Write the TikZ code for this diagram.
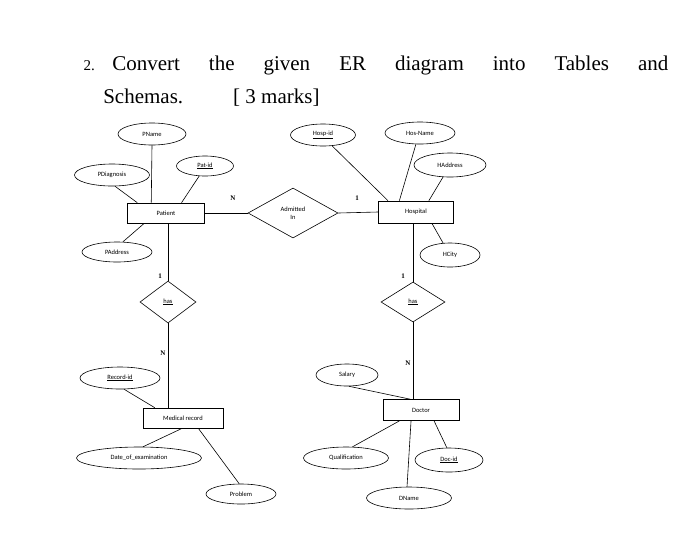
\documentclass[tikz,border=0pt]{standalone}
\usepackage{fontspec}
\setmainfont{Liberation Serif}
\newfontfamily\smallsans{Carlito}
\usetikzlibrary{shapes.geometric,calc}
\begin{document}
\begin{tikzpicture}[x=1pt,y=-1pt,line width=0.6pt,
 att/.style={ellipse,draw,inner sep=0pt,font=\smallsans\fontsize{6.5}{7.5}\selectfont},
 ent/.style={rectangle,draw,inner sep=0pt,font=\smallsans\fontsize{6.5}{7.5}\selectfont},
 rel/.style={diamond,draw,inner sep=0pt,font=\smallsans\fontsize{6.5}{7.5}\selectfont,align=center},
 card/.style={font=\bfseries\fontsize{7}{8}\selectfont}]
\useasboundingbox (0,0) rectangle (700,536);
\node[anchor=base west,font=\fontsize{15}{17}\selectfont] (num) at (80,70) {2.};
\node[anchor=base west,font=\fontsize{21}{24}\selectfont,inner sep=0pt] (l1) at (112,70) {\makebox[556pt][s]{Convert the given ER diagram into Tables and}};
\node[anchor=base west,font=\fontsize{21}{24}\selectfont,inner sep=0pt] (l2) at (103,103) {Schemas.\hspace{50pt}[ 3 marks]};
% entities
\node[ent,minimum width=77pt,minimum height=20pt] (patient) at (166,213) {Patient};
\node[ent,minimum width=75pt,minimum height=22pt] (hospital) at (416,212) {Hospital};
\node[ent,minimum width=80pt,minimum height=20pt] (medrec) at (183,418) {Medical record};
\node[ent,minimum width=76pt,minimum height=21pt] (doctor) at (421,410) {Doctor};
% relationships
\node[rel,minimum width=90pt,minimum height=50pt] (admit) at (293,213) {Admitted\\In};
\node[rel,minimum width=56pt,minimum height=42pt] (has1) at (168,302) {\underline{has}};
\node[rel,minimum width=64pt,minimum height=40pt] (has2) at (413,302) {\underline{has}};
% attributes
\node[att,minimum width=68pt,minimum height=22pt] (pname) at (152,134) {PName};
\node[att,minimum width=57pt,minimum height=20pt] (patid) at (205,166) {\underline{Pat-id}};
\node[att,minimum width=75pt,minimum height=22pt] (pdiag) at (112,175) {PDiagnosis};
\node[att,minimum width=70pt,minimum height=20pt] (paddr) at (117,252) {PAddress};
\node[att,minimum width=65pt,minimum height=22pt] (hospid) at (323,135) {\underline{Hosp-id}};
\node[att,minimum width=70pt,minimum height=22pt] (hosname) at (420,133) {Hos-Name};
\node[att,minimum width=72pt,minimum height=24pt] (haddr) at (450,165) {HAddress};
\node[att,minimum width=60pt,minimum height=24pt] (hcity) at (450,255) {HCity};
\node[att,minimum width=80pt,minimum height=22pt] (recid) at (120,378) {\underline{Record-id}};
\node[att,minimum width=125pt,minimum height=22pt] (date) at (139,458) {Date\_of\_examination};
\node[att,minimum width=70pt,minimum height=20pt] (problem) at (241,494) {Problem};
\node[att,minimum width=62pt,minimum height=22pt] (salary) at (347,375) {Salary};
\node[att,minimum width=85pt,minimum height=22pt] (qual) at (346,458) {Qualification};
\node[att,minimum width=68pt,minimum height=24pt] (docid) at (449,460) {\underline{Doc-id}};
\node[att,minimum width=85pt,minimum height=22pt] (dname) at (409,498) {DName};
% cardinalities
\node[card] (c1) at (233,198) {N};
\node[card] (c2) at (357,198) {1};
\node[card] (c3) at (160,276) {1};
\node[card] (c4) at (403,276) {1};
\node[card] (c5) at (163,353) {N};
\node[card] (c6) at (408,363) {N};
% connectors
\draw (pname.south) -- ($(patient.north west)!0.31!(patient.north east)$);
\draw (patid.240) -- ($(patient.north west)!0.70!(patient.north east)$);
\draw (pdiag.-75) -- ($(patient.north west)!0.13!(patient.north east)$);
\draw (paddr.60) -- ($(patient.south west)!0.22!(patient.south east)$);
\draw (patient.south -| has1.north) -- (has1.north);
\draw (has1.south) -- (has1.south |- medrec.north);
\draw (recid.-70) -- ($(medrec.north west)!0.15!(medrec.north east)$);
\draw ($(medrec.south west)!0.49!(medrec.south east)$) -- (date.70);
\draw ($(medrec.south west)!0.69!(medrec.south east)$) -- (problem.100);
\draw (patient.east) -- (admit.west);
\draw (admit.east) -- (hospital.west);
\draw (hospid.-50) -- ($(hospital.north west)!0.13!(hospital.north east)$);
\draw (hosname.250) -- ($(hospital.north west)!0.28!(hospital.north east)$);
\draw (haddr.240) -- ($(hospital.north west)!0.67!(hospital.north east)$);
\draw (hcity.120) -- ($(hospital.south west)!0.71!(hospital.south east)$);
\draw (hospital.south -| has2.north) -- (has2.north);
\draw (has2.south) -- (doctor.north -| has2.south);
\draw (salary.-80) -- ($(doctor.north west)!0.36!(doctor.north east)$);
\draw ($(doctor.south west)!0.22!(doctor.south east)$) -- (qual.60);
\draw ($(doctor.south west)!0.37!(doctor.south east)$) -- (dname.100);
\draw ($(doctor.south west)!0.67!(doctor.south east)$) -- (docid.100);
\end{tikzpicture}
\end{document}
